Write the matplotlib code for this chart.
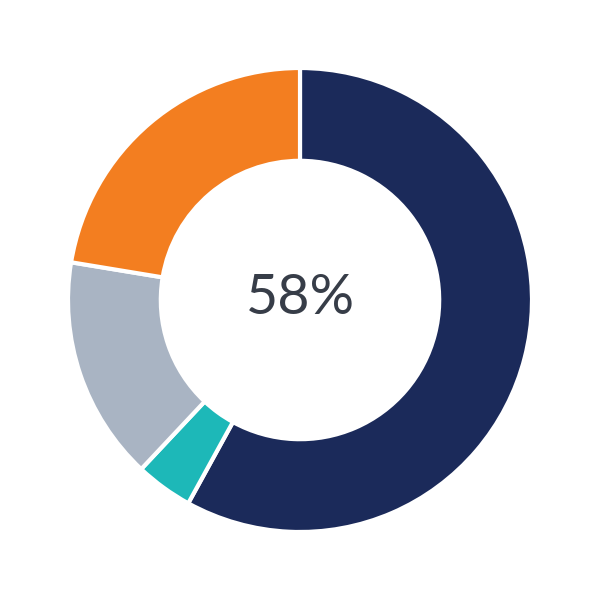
import matplotlib.pyplot as plt

# segment shares, clockwise from 12 o'clock
labels = ['Navy', 'Teal', 'Gray', 'Orange']
values = [58, 4, 15.6, 22.4]
colors = ['#1b2a5a', '#1db8b8', '#a9b4c3', '#f37e20']
center_text = '58%'

fig = plt.figure(figsize=(6, 6), dpi=100)
ax = fig.add_axes([0, 0, 1, 1])

ax.pie(values, colors=colors, startangle=90, counterclock=False,
       radius=1.0,
       wedgeprops=dict(width=0.4, edgecolor='white', linewidth=3))

ax.text(0, 0.005, center_text, ha='center', va='center',
        fontsize=40, color='#373d48', family=['Lato', 'DejaVu Sans'])

lim = 300 / 232
ax.set_xlim(-lim, lim)
ax.set_ylim(-lim, lim)
ax.set_aspect('equal')
ax.axis('off')

fig.savefig('out.png', dpi=100, facecolor='white')
